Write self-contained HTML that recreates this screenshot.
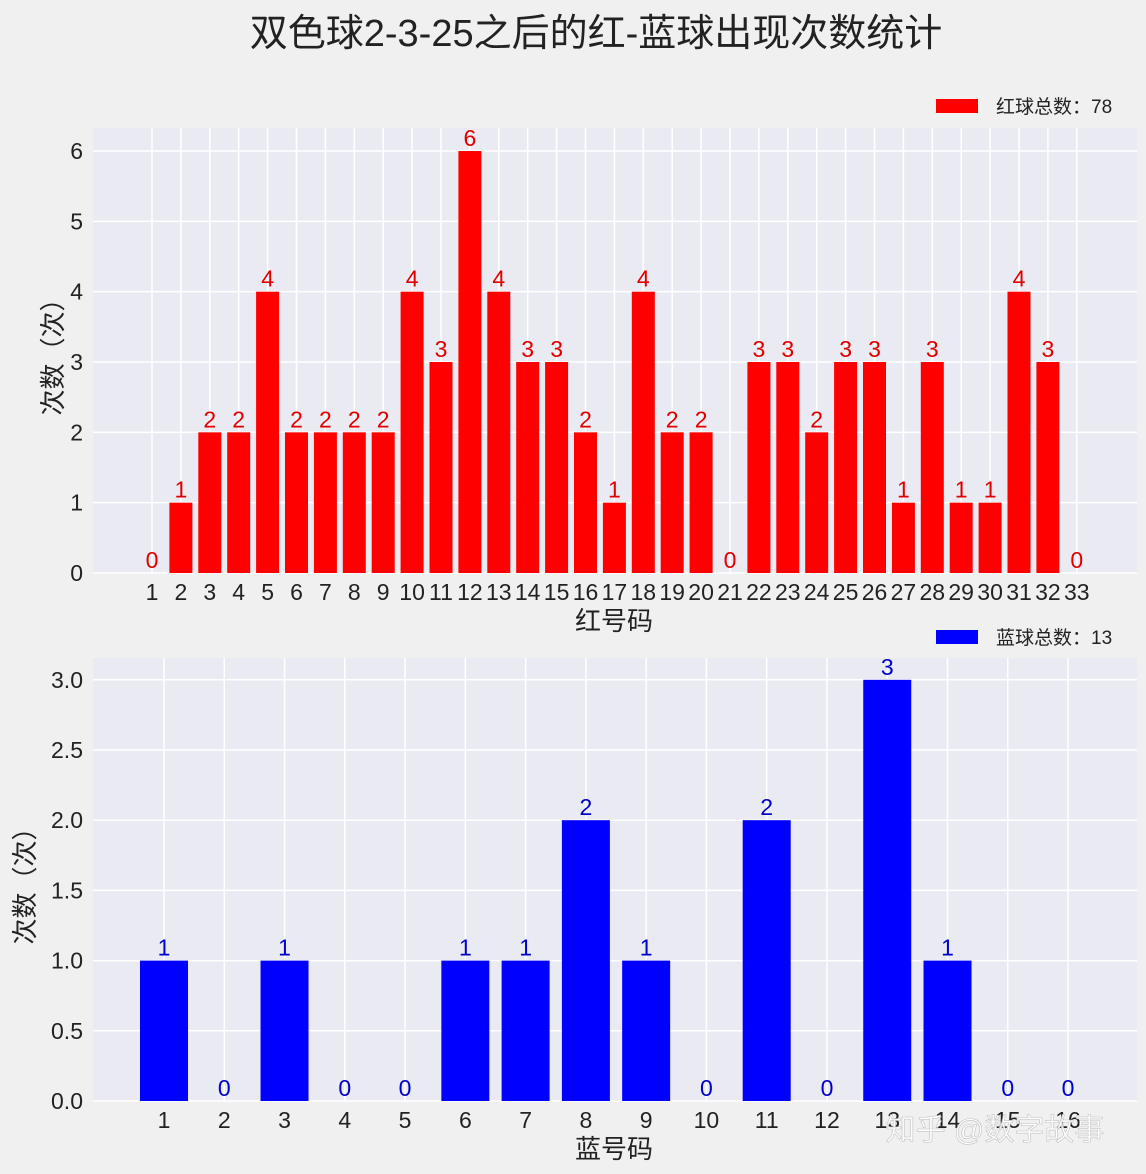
<!DOCTYPE html>
<html><head><meta charset="utf-8"><style>
html,body{margin:0;padding:0;background:#f0f0f0;}
svg{display:block;font-family:"Liberation Sans","Noto Sans CJK SC",sans-serif;}
</style></head><body>
<svg id="chart" width="1146" height="1174" viewBox="0 0 1146 1174">
<rect width="1146" height="1174" fill="#f0f0f0"/>
<text x="596" y="46" font-size="38" text-anchor="middle" fill="#222">双色球2-3-25之后的红-蓝球出现次数统计</text>
<g id="top"></g>
<g id="bot"></g>
<text x="995" y="1140" font-size="30" text-anchor="middle" fill="#ffffff" stroke="#bbb" stroke-width="0.6" opacity="0.9">知乎 @数字故事</text>
</svg>
<script>
const redCats=[1,2,3,4,5,6,7,8,9,10,11,12,13,14,15,16,17,18,19,20,21,22,23,24,25,26,27,28,29,30,31,32,33];
const redVals=[0,1,2,2,4,2,2,2,2,4,3,6,4,3,3,2,1,4,2,2,0,3,3,2,3,3,1,3,1,1,4,3,0];
const redTicks=[0,1,2,3,4,5,6];
const blueCats=[1,2,3,4,5,6,7,8,9,10,11,12,13,14,15,16];
const blueVals=[1,0,1,0,0,1,1,2,1,0,2,0,3,1,0,0];
const blueTicks=[0,0.5,1,1.5,2,2.5,3];
const blueTickLabels=["0.0","0.5","1.0","1.5","2.0","2.5","3.0"];
const NS="http://www.w3.org/2000/svg";
function mk(p,tag,a,txt){const e=document.createElementNS(NS,tag);for(const k in a)e.setAttribute(k,a[k]);if(txt!==undefined)e.textContent=txt;p.appendChild(e);return e;}
function panel(g,o){
  const xs=i=>o.x0+(i-o.c0)*o.dx;
  const ys=v=>o.yb-v*o.uy;
  const bg=mk(g,'rect',{x:o.L,y:o.T,width:o.R-o.L,height:o.yb-o.T,fill:'#eaeaf2'});
  
  o.ticks.forEach((t,k)=>{const y=ys(t);
    const l=mk(g,'line',{x1:o.L,x2:o.R,y1:y,y2:y,stroke:'#fff','stroke-width':1.5});
    
    const tx=mk(g,'text',{x:o.L-10,y:y+8,'font-size':23,'text-anchor':'end',fill:'#222'},o.tlab?o.tlab[k]:String(t));
    });
  o.cats.forEach(c=>{const x=xs(c);
    const l=mk(g,'line',{x1:x,x2:x,y1:o.T,y2:o.yb,stroke:'#fff','stroke-width':1.5});
    
    const tx=mk(g,'text',{x:x,y:o.yb+27,'font-size':23,'text-anchor':'middle',fill:'#222'},String(c));
    });
  o.cats.forEach((c,i)=>{const v=o.vals[i],x=xs(c);
    if(v>0){const r=mk(g,'rect',{x:x-o.bw/2,y:ys(v),width:o.bw,height:v*o.uy,fill:o.col});
      }
    const t=mk(g,'text',{x:x,y:ys(v)-5,'font-size':23,'text-anchor':'middle',fill:o.lc},String(v));
    });
  const xt=mk(g,'text',{x:614,y:o.yb+57,'font-size':26,'text-anchor':'middle',fill:'#222'},o.xlabel);
  
  const cy=(o.T+o.yb)/2;
  const yt=mk(g,'text',{x:o.ytx,y:cy,'font-size':26,'text-anchor':'middle',fill:'#222',transform:`rotate(-90 ${o.ytx} ${cy})`},'次数（次）');
  
  const lr=mk(g,'rect',{x:936,y:o.legY-7,width:42,height:14,fill:o.col});
  
  const lt=mk(g,'text',{x:996,y:o.legY+7,'font-size':19,fill:'#222'},o.leg);
  
}
panel(document.getElementById('top'),{L:93,R:1137,T:128,yb:573,uy:70.33,x0:152,c0:1,dx:28.9,bw:23,
  cats:redCats,vals:redVals,ticks:redTicks,col:'#ff0000',lc:'#e00000',xlabel:'红号码',ytx:62,legY:106,leg:'红球总数：78'});
panel(document.getElementById('bot'),{L:93,R:1137,T:658,yb:1101,uy:140.4,tlab:blueTickLabels,x0:164,c0:1,dx:60.27,bw:48,
  cats:blueCats,vals:blueVals,ticks:blueTicks,col:'#0000ff',lc:'#0000cc',xlabel:'蓝号码',ytx:34,legY:637,leg:'蓝球总数：13'});
</script>
</body></html>
